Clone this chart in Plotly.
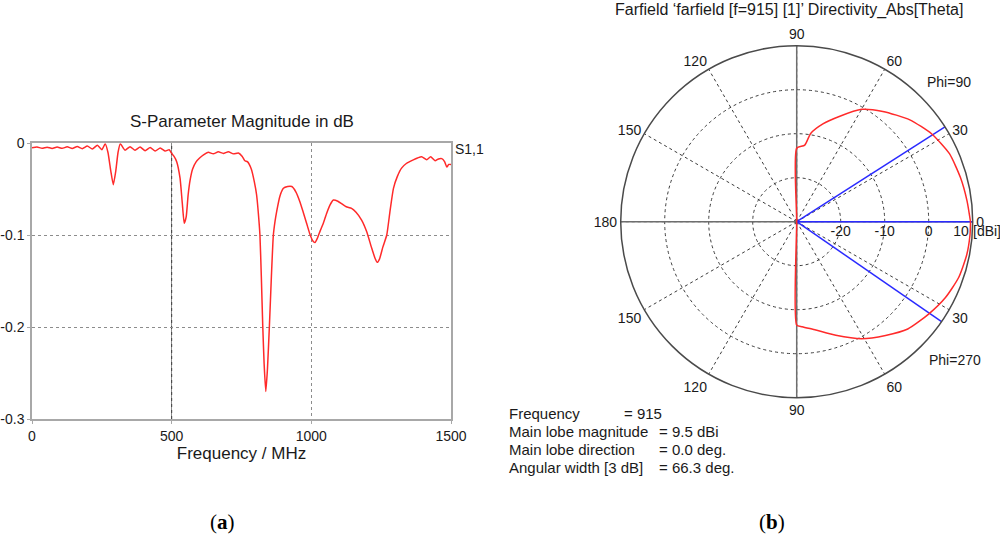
import plotly.graph_objects as go

# ---------------- (a) S-parameter data ----------------
freq_mhz = [0, 18, 36, 54, 72, 90, 108, 126, 144, 162, 180, 198, 216, 234, 250, 262, 272, 282, 291,
            300, 308, 316, 333, 351, 369, 387, 405, 423, 441, 459, 477, 491, 500,
            508, 518, 530, 538, 545, 552, 559, 566, 575, 588, 600, 614, 631, 649, 667, 685,
            703, 721, 739, 752, 762, 771, 785, 796, 804, 810, 816, 821, 826, 831, 837, 843, 850,
            857, 864, 870, 876, 888, 900, 915, 930, 945, 959, 971, 983, 995, 1005, 1013, 1022, 1032,
            1043, 1055, 1067, 1079, 1095, 1110, 1125, 1144, 1160, 1180, 1198, 1216, 1228, 1236, 1244,
            1256, 1270, 1282, 1294, 1308, 1323, 1340, 1352, 1365, 1380, 1395, 1413, 1427, 1443, 1455,
            1467, 1477, 1485, 1492, 1500]
s11_db = [-0.0048, -0.0040, -0.0055, -0.0042, -0.0056, -0.0040, -0.0055, -0.0038, -0.0056, -0.0035,
          -0.0058, -0.0030, -0.0062, -0.0022, -0.0070, -0.0005, -0.0100, -0.0300, -0.0450,
          -0.0300, -0.0100, -0.0005, -0.0075, -0.0037, -0.0075, -0.0040, -0.0080, -0.0045, -0.0085,
          -0.0050, -0.0085, -0.0070, -0.0110,
          -0.0140, -0.0200, -0.0380, -0.0650, -0.0870, -0.0800, -0.0560, -0.0400, -0.0280, -0.0200,
          -0.0160, -0.0125, -0.0098, -0.0115, -0.0093, -0.0110,
          -0.0092, -0.0115, -0.0105, -0.0140, -0.0190, -0.0200, -0.0280, -0.0420, -0.0560,
          -0.0750, -0.1000, -0.1450, -0.1980, -0.2400, -0.2700, -0.2450, -0.1980,
          -0.1450, -0.1000, -0.0850, -0.0740, -0.0570, -0.0490, -0.0470, -0.0470, -0.0530, -0.0635,
          -0.0750, -0.0870, -0.0990, -0.1060, -0.1080, -0.1030, -0.0950,
          -0.0870, -0.0760, -0.0670, -0.0617, -0.0630, -0.0660, -0.0690, -0.0708, -0.0750, -0.0835,
          -0.0960, -0.1140, -0.1250, -0.1295, -0.1260,
          -0.1130, -0.0998, -0.0730, -0.0490, -0.0360, -0.0270, -0.0220, -0.0200, -0.0180, -0.0160,
          -0.0146, -0.0180, -0.0146, -0.0190, -0.0170,
          -0.0167, -0.0200, -0.0258, -0.0230, -0.0232]
x_ticks = [0, 500, 1000, 1500]
y_ticks = [0, -0.1, -0.2, -0.3]
y_ticktext = ["0", "-0.1", "-0.2", "-0.3"]

# ---------------- (b) Farfield data ----------------
# Phi = 90 half (upper), theta in degrees, directivity in dBi (-30 = below plot floor)
theta_phi90 = [0, 7, 15, 24, 33, 42, 52, 60, 68, 75, 81, 84, 90, 90]
dir_phi90 = [9.5, 9.0, 8.55, 8.0, 6.6, 4.6, 1.8, -0.5, -4.2, -7.0, -9.7, -12.5, -13.3, -30]
# Phi = 270 half (lower)
theta_phi270 = [0, 4.4, 11, 19, 27, 35, 44, 52, 61, 71, 80, 87, 90, 90]
dir_phi270 = [9.5, 9.5, 9.37, 8.93, 7.95, 6.6, 5.1, 2.8, 0.4, -2.7, -5.0, -6.1, -6.5, -30]
main_lobe_dir = 0.0
half_power_dirs = [32.6, -34.6]
r_min, r_max = -30, 10
r_ticks = [-20, -10, 0, 10]
r_ticktext = ["-20", "-10", "0", "10\u00a0\u00a0\u00a0\u00a0\u00a0\u00a0"]
ang_tickvals = [0, 30, 60, 90, 120, 150, 180, 210, 240, 270, 300, 330]
ang_ticktext = ["0", "30", "60", "90", "120", "150", "180", "150", "120", "90", "60", "30"]

FONT = "Liberation Sans, Arial, sans-serif"
RED = "#ff2a2a"
BLUE = "#2a2aff"

W, H = 1000, 540


def px(x):
    return x / W


def py(y):
    return 1 - y / H


fig = go.Figure()

# (a) S11 curve
fig.add_trace(go.Scatter(x=freq_mhz, y=s11_db, mode="lines",
                         line=dict(color=RED, width=1.5, shape="spline", smoothing=0.5),
                         showlegend=False, hoverinfo="skip"))

# (b) polar: solid axis lines through the centre
fig.add_trace(go.Scatterpolar(theta=[180, 180, 0, 0], r=[r_max, r_min, r_min, r_max], mode="lines",
                              line=dict(color="#6e6e6e", width=1.5), showlegend=False,
                              hoverinfo="skip", subplot="polar"))
fig.add_trace(go.Scatterpolar(theta=[90, 90, 270, 270], r=[r_max, r_min, r_min, r_max], mode="lines",
                              line=dict(color="#6e6e6e", width=1.5), showlegend=False,
                              hoverinfo="skip", subplot="polar"))

# blue main-lobe and half-power lines
for ang in [main_lobe_dir] + half_power_dirs:
    fig.add_trace(go.Scatterpolar(theta=[ang, ang], r=[r_min, r_max], mode="lines",
                                  line=dict(color=BLUE, width=1.5), showlegend=False,
                                  hoverinfo="skip", subplot="polar"))

# red pattern
theta_all = [t for t in reversed(theta_phi90)] + [-t for t in theta_phi270]
r_all = [d for d in reversed(dir_phi90)] + dir_phi270
fig.add_trace(go.Scatterpolar(theta=theta_all, r=r_all, mode="lines",
                              line=dict(color=RED, width=1.5, shape="spline", smoothing=0.6),
                              showlegend=False, hoverinfo="skip", subplot="polar"))

fig.update_layout(
    width=W, height=H,
    margin=dict(l=0, r=0, t=0, b=0, pad=0, autoexpand=False),
    paper_bgcolor="white",
    plot_bgcolor="white",
    font=dict(family=FONT, size=14, color="#1a1a1a"),
    xaxis=dict(domain=[px(32), px(451)], range=[0, 1500], tickvals=x_ticks, automargin=False,
               showgrid=True, gridcolor="#8c8c8c", griddash="dot", gridwidth=1,
               showline=True, mirror=True, linecolor="#a8a8a8", linewidth=1.5,
               ticks="outside", ticklen=3, tickcolor="#a8a8a8",
               tickfont=dict(size=14), zeroline=False,
               title=dict(text="Frequency / MHz", font=dict(size=17), standoff=2)),
    yaxis=dict(domain=[py(419), py(143.3)], range=[-0.3, 0], tickvals=y_ticks, ticktext=y_ticktext,
               automargin=False,
               showgrid=True, gridcolor="#8c8c8c", griddash="dot", gridwidth=1,
               showline=True, mirror=True, linecolor="#a8a8a8", linewidth=1.5,
               ticks="outside", ticklen=3, tickcolor="#a8a8a8",
               tickfont=dict(size=14), zeroline=False),
    polar=dict(
        domain=dict(x=[px(620.7), px(972.7)], y=[py(397.7), py(45.7)]),
        bgcolor="white",
        angularaxis=dict(rotation=0, direction="counterclockwise",
                         tickmode="array", tickvals=ang_tickvals, ticktext=ang_ticktext,
                         tickfont=dict(size=14), ticks="",
                         showgrid=True, gridcolor="#3c3c3c", griddash="dot", gridwidth=1,
                         showline=True, linecolor="#4a4a4a", linewidth=1.5),
        radialaxis=dict(range=[r_min, r_max], tickvals=r_ticks, ticktext=r_ticktext,
                        angle=0, side="clockwise",
                        tickangle=0, tickfont=dict(size=14), ticks="",
                        showgrid=True, gridcolor="#3c3c3c", griddash="dot", gridwidth=1,
                        showline=False),
    ),
)

# 500 MHz grid line is drawn darker in the original
fig.add_shape(type="line", xref="x", yref="y domain", x0=x_ticks[1], x1=x_ticks[1], y0=0, y1=1,
              line=dict(color="#2a2a2a", width=1, dash="dot"), layer="below")

ann = [
    dict(text="S-Parameter Magnitude in dB", x=242, y=121.7, size=17),
    dict(text="S1,1", x=469, y=149, size=14),
    dict(text="Farfield \u2018farfield [f=915] [1]\u2019 Directivity_Abs[Theta]", x=789, y=9.5, size=16),
    dict(text="Phi=90", x=949, y=82, size=14),
    dict(text="Phi=270", x=955, y=360, size=14),
]
for a in ann:
    fig.add_annotation(text=a["text"], x=px(a["x"]), y=py(a["y"]), xref="paper", yref="paper",
                       showarrow=False, font=dict(size=a["size"], family=FONT, color="#1a1a1a"),
                       xanchor="center", yanchor="middle")

fig.add_annotation(text="[dBi]", x=px(971), y=py(231), xref="paper", yref="paper",
                   showarrow=False, font=dict(size=14, family=FONT, color="#1a1a1a"),
                   xanchor="left", yanchor="middle")

info_labels = ["Frequency", "Main lobe magnitude", "Main lobe direction", "Angular width [3 dB]"]
info_values = ["= 915", "= 9.5 dBi", "= 0.0 deg.", "= 66.3 deg."]
info_value_x = [621.7, 656.7, 656.7, 656.7]
info_y = [413.3, 431.5, 449.3, 467.3]
for lab, val, vx, yy in zip(info_labels, info_values, info_value_x, info_y):
    fig.add_annotation(text=lab, x=px(506.7), y=py(yy), xref="paper", yref="paper",
                       showarrow=False, font=dict(size=15, family=FONT, color="#1a1a1a"),
                       xanchor="left", yanchor="middle")
    fig.add_annotation(text=val, x=px(vx), y=py(yy), xref="paper", yref="paper",
                       showarrow=False, font=dict(size=15, family=FONT, color="#1a1a1a"),
                       xanchor="left", yanchor="middle")

for lab, xx in [("(<b>a</b>)", 222), ("(<b>b</b>)", 772)]:
    fig.add_annotation(text=lab, x=px(xx), y=py(522), xref="paper", yref="paper",
                       showarrow=False, font=dict(size=21, family="Liberation Serif, Times New Roman, serif",
                                                  color="#000000"),
                       xanchor="center", yanchor="middle")

# remove the browser's default 8 px body margin so the 1000x540 figure fills the window exactly
fig.write_html("out.html", config={"displayModeBar": False},
               post_script="document.body.style.margin='0';document.body.style.overflow='hidden';")
